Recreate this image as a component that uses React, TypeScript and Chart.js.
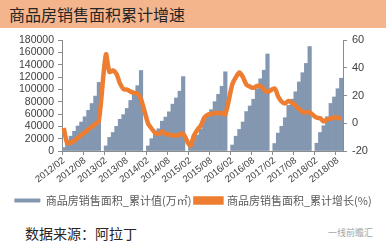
import React, { useEffect, useRef } from "react";
import { Chart, registerables } from "chart.js";

Chart.register(...registerables);

const TITLE = "商品房销售面积累计增速";
const SERIES_AREA = "商品房销售面积_累计值(万㎡)";
const SERIES_GROWTH = "商品房销售面积_累计增长(%)";
const SOURCE = "数据来源：阿拉丁";
const WATERMARK = "一线前瞻汇";

const YEARS = [2012, 2013, 2014, 2015, 2016, 2017, 2018];
const MONTHS = ["01", "02", "03", "04", "05", "06", "07", "08", "09", "10", "11", "12"];
const LAST_MONTH_2018 = 9;

// cumulative sales area (万㎡), Feb..Dec of each year (Jan has no data)
const AREA_2012 = [5523, 17449, 24000, 32000, 40523, 47000, 55500, 66000, 77000, 89000, 111304];
const AREA_2013 = [8267, 22000, 30000, 40000, 51433, 59000, 69000, 82000, 93000, 106000, 130551];
const AREA_2014 = [8258, 20000, 27000, 36000, 48365, 55000, 63500, 76000, 86000, 97000, 120649];
const AREA_2015 = [6913, 18000, 25700, 35400, 50000, 58000, 67000, 80000, 92000, 105000, 128495];
const AREA_2016 = [9679, 24000, 35000, 47000, 64000, 73000, 84000, 101000, 117000, 131000, 157349];
const AREA_2017 = [12110, 29000, 40000, 54000, 74000, 84000, 96000, 112000, 127000, 142000, 169408];
const AREA_2018 = [12598, 30000, 41000, 55600, 77100, 87600, 101000, 118000];

// cumulative growth (%), Feb..Dec of each year
const GROWTH_2012 = [-3.5, -14.5, -14, -12.5, -10.5, -8.5, -6.5, -4.5, -2.5, -0.5, 1.8];
const GROWTH_2013 = [49.5, 37.1, 38.0, 35.6, 28.7, 24.6, 24.3, 22.8, 21.9, 21.3, 17.3];
const GROWTH_2014 = [-0.1, -3.8, -6.8, -7.8, -6.0, -7.6, -8.3, -8.6, -8.9, -8.2, -7.6];
const GROWTH_2015 = [-16.3, -9.2, -4.8, -1.7, 3.9, 6.1, 6.6, 7.5, 7.2, 7.4, 6.5];
const GROWTH_2016 = [28.2, 33.1, 36.5, 33.2, 27.9, 26.4, 25.5, 26.9, 26.8, 24.3, 22.5];
const GROWTH_2017 = [25.1, 19.5, 15.7, 14.3, 16.1, 14.7, 12.7, 10.3, 8.2, 7.9, 7.7];
const GROWTH_2018 = [4.1, 3.6, 1.3, 2.9, 3.3, 4.2, 4.0, 2.9];

const AREA_BY_YEAR = [AREA_2012, AREA_2013, AREA_2014, AREA_2015, AREA_2016, AREA_2017, AREA_2018];
const GROWTH_BY_YEAR = [GROWTH_2012, GROWTH_2013, GROWTH_2014, GROWTH_2015, GROWTH_2016, GROWTH_2017, GROWTH_2018];

const LEFT_MIN = 0;
const LEFT_MAX = 180000;
const LEFT_STEP = 20000;
const RIGHT_MIN = -20;
const RIGHT_MAX = 60;
const RIGHT_STEP = 20;
const LABEL_EVERY = 6;

function buildSeries() {
  const labels: string[] = [];
  const area: (number | null)[] = [];
  const growth: (number | null)[] = [];
  YEARS.forEach((y, yi) => {
    MONTHS.forEach((mm, mi) => {
      const m = mi + 1;
      if (y === 2012 && m === 1) return;
      if (y === 2018 && m > LAST_MONTH_2018) return;
      labels.push(`${y}/${mm}`);
      if (m === 1) {
        area.push(null);
        growth.push(null);
      } else {
        area.push(AREA_BY_YEAR[yi][m - 2] ?? null);
        growth.push(GROWTH_BY_YEAR[yi][m - 2] ?? null);
      }
    });
  });
  return { labels, area, growth };
}

const BAR_COLOR = "#8497B0";
const LINE_COLOR = "#ED7D31";
const AXIS_COLOR = "#8c8c8c";
const TEXT_COLOR = "#404040";
const NUM_FONT = "'Liberation Sans', Arial, sans-serif";
const CJK_FONT = "'Noto Sans CJK SC', sans-serif";

export default function App() {
  const ref = useRef<HTMLCanvasElement | null>(null);

  useEffect(() => {
    document.body.style.margin = "0";
    if (!ref.current) return;
    const { labels, area, growth } = buildSeries();
    const chart = new Chart(ref.current, {
      type: "bar",
      data: {
        labels,
        datasets: [
          {
            type: "bar",
            label: SERIES_AREA,
            data: area,
            backgroundColor: BAR_COLOR,
            borderWidth: 0,
            barPercentage: 1,
            categoryPercentage: 1,
            yAxisID: "y",
            order: 2,
          },
          {
            type: "line",
            label: SERIES_GROWTH,
            data: growth,
            borderColor: LINE_COLOR,
            backgroundColor: LINE_COLOR,
            borderWidth: 4.5,
            pointRadius: 0,
            tension: 0.3,
            spanGaps: true,
            yAxisID: "y1",
            order: 1,
          },
        ],
      },
      options: {
        animation: false,
        responsive: false,
        maintainAspectRatio: false,
        layout: { padding: { top: 12, left: 0, right: 0, bottom: 0 } },
        plugins: {
          tooltip: { enabled: false },
          legend: {
            position: "bottom",
            labels: {
              boxWidth: 26,
              boxHeight: 4,
              padding: 4,
              color: "#595959",
              font: { family: CJK_FONT, size: 11 },
              sort: (a: any, b: any) => a.datasetIndex - b.datasetIndex,
            },
          },
        },
        scales: {
          x: {
            offset: true,
            grid: {
              offset: true,
              drawOnChartArea: false,
              drawTicks: true,
              tickLength: 4,
              color: (ctx: any) => (ctx.index % LABEL_EVERY === 0 ? AXIS_COLOR : "rgba(0,0,0,0)"),
            },
            border: { display: true, color: AXIS_COLOR },
            ticks: {
              autoSkip: false,
              maxRotation: 38,
              minRotation: 38,
              padding: 0,
              color: TEXT_COLOR,
              font: { family: NUM_FONT, size: 9.5 },
              callback: (_v: any, i: number) => (i % LABEL_EVERY === 0 ? labels[i] : ""),
            },
            afterFit: (s: any) => {
              s.height = 40;
            },
          },
          y: {
            position: "left",
            min: LEFT_MIN,
            max: LEFT_MAX,
            grid: { drawOnChartArea: false, tickLength: 4, color: AXIS_COLOR },
            border: { display: true, color: AXIS_COLOR },
            ticks: {
              stepSize: LEFT_STEP,
              autoSkip: false,
              padding: 4,
              color: TEXT_COLOR,
              font: { family: NUM_FONT, size: 10.5 },
              callback: (v: any) => String(v),
            },
            afterFit: (s: any) => {
              s.width = 62;
            },
          },
          y1: {
            position: "right",
            min: RIGHT_MIN,
            max: RIGHT_MAX,
            grid: { drawOnChartArea: false, tickLength: 4, color: AXIS_COLOR },
            border: { display: true, color: AXIS_COLOR },
            ticks: {
              stepSize: RIGHT_STEP,
              autoSkip: false,
              padding: 5,
              color: TEXT_COLOR,
              font: { family: NUM_FONT, size: 11 },
              callback: (v: any) => String(v),
            },
            afterFit: (s: any) => {
              s.width = 43;
            },
          },
        },
      },
    });
    return () => chart.destroy();
  }, []);

  return (
    <div style={{ position: "absolute", left: 0, top: 0, width: 386, height: 250, background: "#fff", overflow: "hidden" }}>
      <div
        style={{
          position: "absolute",
          left: 0,
          top: 0,
          width: 386,
          height: 28,
          background: "#F4B48C",
          color: "#262626",
          fontFamily: CJK_FONT,
          fontSize: 16,
          lineHeight: "28px",
          paddingLeft: 9,
          boxSizing: "border-box",
        }}
      >
        {TITLE}
      </div>
      <canvas ref={ref} width={386} height={188} style={{ position: "absolute", left: 0, top: 28, width: 386, height: 188 }} />
      <div
        style={{
          position: "absolute",
          left: 25,
          top: 224,
          fontFamily: CJK_FONT,
          fontSize: 14,
          lineHeight: "18px",
          color: "#262626",
        }}
      >
        {SOURCE}
      </div>
      <div
        style={{
          position: "absolute",
          left: 328,
          top: 227,
          fontFamily: CJK_FONT,
          fontSize: 9,
          lineHeight: "12px",
          color: "#a6a6a6",
        }}
      >
        {WATERMARK}
      </div>
    </div>
  );
}
